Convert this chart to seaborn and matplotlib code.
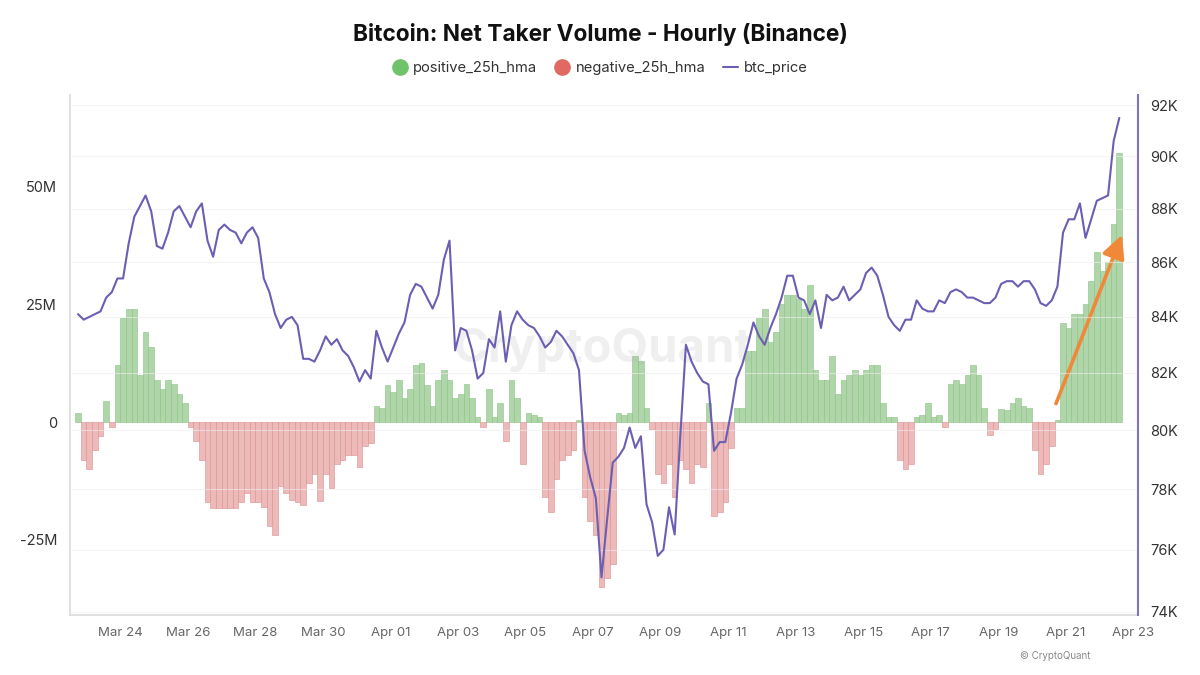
import numpy as np
import pandas as pd
import seaborn as sns
import matplotlib.pyplot as plt
import matplotlib.dates as mdates
from matplotlib.lines import Line2D
from matplotlib.ticker import FixedLocator, FuncFormatter, NullLocator

# Net taker volume (25h hma, millions) and BTC price (thousands), every 4 hours
start = pd.Timestamp('2025-03-22 18:00')

net_taker_m = [
    2, -8, -10, -6, -3, 4.5, -1, 12, 22, 24,
    24, 10, 19, 16, 9, 7, 9, 8, 6, 4,
    -1, -4, -8, -17, -18.2, -18.2, -18.2, -18.2, -18.2, -17,
    -15, -17, -17, -18, -22, -24, -13.6, -15, -16.5, -17,
    -17.5, -13, -11, -16.8, -11, -14, -9, -8, -7, -7,
    -9.5, -5, -4.5, 3.5, 3, 7.8, 6.4, 9, 5, 7,
    12, 12.5, 7.8, 3.5, 9, 11, 9, 5, 6, 8,
    5, 1, -1, 7, 1, 4, -4, 9, 5, -9,
    2, 1.5, 1, -16, -19, -12, -8, -7, -6, 0.5,
    -16, -21, -24, -35, -33, -30, 2, 1.5, 2, 14,
    13, 3, -1.5, -11, -13, -9, -16, -8, -10, -13,
    -9, -9.5, 4, -20, -19, -17, -5.5, 3, 3, 15,
    15, 22, 24, 17, 19, 25, 27, 27, 26, 24,
    29, 11, 9, 9, 14, 6, 9, 10, 11, 10,
    11, 12, 12, 4, 1, 1, -8, -10, -9, 1,
    1.5, 4, 1, 1.5, -1, 8, 9, 8, 10, 12,
    10, 3, -2.8, -1.5, 2.8, 2.5, 4, 5, 3.5, 3,
    -6, -11, -9, -5, 0.5, 21, 20, 23, 23, 25,
    30, 36, 32, 34, 42, 57,
]

btc_price_k = [
    84.1, 83.9, 84.0, 84.1, 84.2, 84.7, 84.9, 85.4, 85.4, 86.7,
    87.7, 88.1, 88.5, 87.9, 86.6, 86.5, 87.1, 87.9, 88.1, 87.7,
    87.3, 87.9, 88.2, 86.8, 86.2, 87.2, 87.4, 87.2, 87.1, 86.7,
    87.1, 87.3, 86.9, 85.4, 84.9, 84.1, 83.6, 83.9, 84.0, 83.7,
    82.5, 82.5, 82.4, 82.8, 83.3, 83.0, 83.2, 82.8, 82.6, 82.2,
    81.7, 82.1, 81.8, 83.5, 82.9, 82.4, 82.9, 83.4, 83.8, 84.8,
    85.2, 85.1, 84.7, 84.3, 84.8, 86.1, 86.8, 82.8, 83.6, 83.5,
    82.8, 81.8, 82.0, 83.2, 82.9, 84.2, 82.4, 83.7, 84.2, 83.9,
    83.7, 83.6, 83.3, 82.9, 83.1, 83.5, 83.3, 83.0, 82.7, 82.1,
    79.3, 78.4, 77.7, 75.1, 77.0, 78.9, 79.1, 79.4, 80.1, 79.4,
    79.8, 77.5, 76.9, 75.8, 76.0, 77.4, 76.5, 79.8, 83.0, 82.4,
    82.0, 81.7, 81.6, 79.3, 79.6, 79.6, 80.6, 81.8, 82.3, 83.0,
    83.8, 83.3, 83.0, 83.6, 84.1, 84.7, 85.5, 85.5, 84.7, 84.6,
    84.1, 84.6, 83.6, 84.8, 84.6, 84.7, 85.1, 84.6, 84.8, 85.0,
    85.6, 85.8, 85.5, 84.8, 84.0, 83.7, 83.5, 83.9, 83.9, 84.6,
    84.3, 84.2, 84.2, 84.6, 84.5, 84.9, 85.0, 84.9, 84.7, 84.7,
    84.6, 84.5, 84.5, 84.7, 85.2, 85.3, 85.3, 85.1, 85.3, 85.3,
    85.0, 84.5, 84.4, 84.6, 85.1, 87.1, 87.6, 87.6, 88.2, 86.9,
    87.6, 88.3, 88.4, 88.5, 90.6, 91.5,
]

left_ticks = [-25, 0, 25, 50]
right_ticks = [74, 76, 78, 80, 82, 84, 86, 88, 90, 92]

GREEN = '#acdca3'
GREEN_EDGE = '#86c57c'
RED = '#f5b2b2'
RED_EDGE = '#dc8e8e'
PURPLE = '#6a5fb3'

sns.set_theme(style='white')
plt.rcParams['font.family'] = ['Inter', 'DejaVu Sans']

times = pd.date_range(start, periods=len(net_taker_m), freq='4h')
tnum = mdates.date2num(times)
df = pd.DataFrame({'t': tnum, 'v': net_taker_m, 'price': btc_price_k})
df['sign'] = np.where(df['v'] >= 0, 'positive_25h_hma', 'negative_25h_hma')

fig = plt.figure(figsize=(12, 6.75), dpi=100)
ax = fig.add_axes([0.058, 0.089, 0.89, 0.770])

sns.barplot(data=df, x='t', y='v', hue='sign', native_scale=True, dodge=False,
            width=1.0, errorbar=None, legend=False, ax=ax,
            palette={'positive_25h_hma': GREEN, 'negative_25h_hma': RED})
for p in ax.patches:
    p.set_edgecolor(GREEN_EDGE if p.get_height() >= 0 else RED_EDGE)
    p.set_linewidth(0.4)

ax.set_ylim(-40.9, 69.3)
ax.set_xlim(mdates.date2num(pd.Timestamp('2025-03-22 12:00')),
            mdates.date2num(pd.Timestamp('2025-04-23 03:00')))
ax.yaxis.set_major_locator(FixedLocator(left_ticks))
ax.yaxis.set_major_formatter(FuncFormatter(lambda v, p: '0' if v == 0 else f'{v:.0f}M'))
ax.tick_params(axis='y', length=0, pad=9, labelsize=10.5, labelcolor='#333333')
ax.set_xlabel('')
ax.set_ylabel('')

xt = pd.date_range('2025-03-24', '2025-04-23', freq='2D')
ax.xaxis.set_major_locator(FixedLocator(mdates.date2num(xt)))
ax.xaxis.set_major_formatter(mdates.DateFormatter('%b %d'))
ax.tick_params(axis='x', length=4, color='#d0d0d0', pad=5, labelsize=9.5, labelcolor='#666666')

for s in ['top', 'right']:
    ax.spines[s].set_visible(False)
ax.spines['left'].set_color('#dcdcdc')
ax.spines['bottom'].set_color('#dcdcdc')

# price line on the right axis (log scale)
ax2 = ax.twinx()
sns.lineplot(data=df, x='t', y='price', color=PURPLE, linewidth=1.5, ax=ax2)
ax2.set_yscale('log')
ax2.set_ylim(73.9, 92.4)
ax2.yaxis.set_major_locator(FixedLocator(right_ticks))
ax2.yaxis.set_minor_locator(NullLocator())
ax2.yaxis.set_major_formatter(FuncFormatter(lambda v, p: f'{v:.0f}K'))
ax2.tick_params(axis='y', length=0, pad=9, labelsize=10.5, labelcolor='#333333')
ax2.grid(axis='y', color='#eeeeee', linewidth=0.8, alpha=0.6)
ax2.set_ylabel('')
for s in ['top', 'left', 'bottom']:
    ax2.spines[s].set_visible(False)
ax2.spines['right'].set_color('#7d74c4')
ax2.spines['right'].set_linewidth(1.5)

# watermark
ax.text(0.5, 0.51, 'CryptoQuant', transform=ax.transAxes, ha='center', va='center',
        fontsize=34, fontweight='bold', color='#b0b0b0', alpha=0.2)
fig.text(0.85, 0.028, '\u00a9 CryptoQuant', ha='left', va='center', fontsize=7, color='#888888')

# orange trend arrow
ax.annotate('', xy=(0.935, 0.652), xytext=(0.880, 0.402), xycoords='figure fraction',
            textcoords='figure fraction',
            arrowprops=dict(arrowstyle='-|>,head_length=0.7,head_width=0.35', mutation_scale=20,
                            color='#f0883a', lw=2.6, shrinkA=0, shrinkB=0))

fig.text(0.5, 1 - 35 / 675, 'Bitcoin: Net Taker Volume - Hourly (Binance)', ha='center', va='center',
         fontsize=16.3, fontweight='bold', color='#111111')

handles = [
    Line2D([], [], marker='o', ls='', color='#6fc46b', markersize=11),
    Line2D([], [], marker='o', ls='', color='#e06a62', markersize=11),
    Line2D([], [], color=PURPLE, lw=1.5),
]
fig.legend(handles, ['positive_25h_hma', 'negative_25h_hma', 'btc_price'], loc='center',
           bbox_to_anchor=(0.5, 1 - 68 / 675), ncol=3, frameon=False, fontsize=10.6,
           handlelength=1.0, handletextpad=0.4, columnspacing=1.2, labelcolor='#333333')

fig.savefig('out.png', dpi=100)
